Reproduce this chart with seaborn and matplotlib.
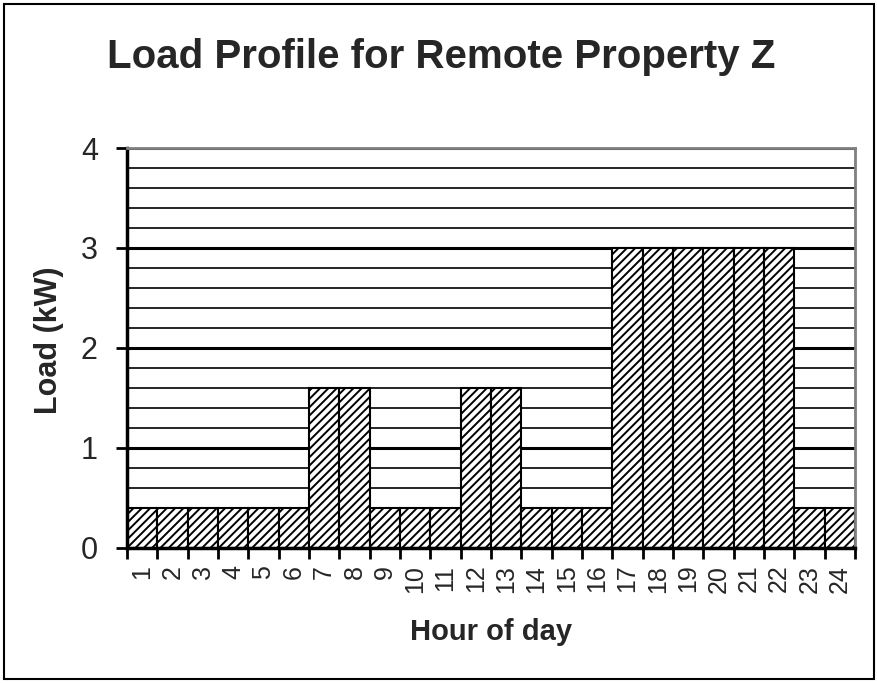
import numpy as np
import pandas as pd
import seaborn as sns
import matplotlib.pyplot as plt
from matplotlib.patches import Rectangle

# Dados do perfil de carga (kW por hora do dia)
horas = [str(h) for h in range(1, 25)]
carga = [0.4, 0.4, 0.4, 0.4, 0.4, 0.4, 1.6, 1.6, 0.4, 0.4, 0.4, 1.6,
         1.6, 0.4, 0.4, 0.4, 3.0, 3.0, 3.0, 3.0, 3.0, 3.0, 0.4, 0.4]

sns.set_theme(style="white")
plt.rcParams["font.family"] = ["Liberation Sans", "DejaVu Sans"]
plt.rcParams["hatch.linewidth"] = 1.4

df = pd.DataFrame({"hora": horas, "carga": carga})

fig = plt.figure(figsize=(8.78, 6.83), dpi=100)
ax = fig.add_axes([0.1446, 0.1977, 0.8292, 0.5856])

sns.barplot(x="hora", y="carga", data=df, ax=ax, order=horas, width=1.0,
            color="white", edgecolor="black", linewidth=1.5, hatch="////",
            errorbar=None, saturation=1)

ax.set_xlim(-0.5, 23.5)
ax.set_ylim(0, 4)

# grade principal e secundaria
ax.set_yticks([0, 1, 2, 3, 4])
ax.set_yticks(np.arange(0, 4.01, 0.2), minor=True)
ax.grid(True, axis="y", which="major", color="black", linewidth=2.2)
ax.grid(True, axis="y", which="minor", color="black", linewidth=1.2)
ax.grid(False, axis="x")
ax.set_axisbelow(True)

# ticks do eixo x nas divisas das barras
ax.set_xticks(np.arange(24))
ax.set_xticklabels(horas, rotation=90, fontsize=18)
ax.set_xticks(np.arange(-0.5, 24, 1), minor=True)
ax.tick_params(axis="x", which="major", length=0, pad=12)
ax.tick_params(axis="x", which="minor", length=8, width=2, color="black",
               direction="out", bottom=True)
ax.tick_params(axis="y", which="major", length=8, width=2, color="black",
               direction="out", left=True, labelsize=22, pad=13)
ax.tick_params(axis="y", which="minor", length=0)

for lado in ["left", "bottom"]:
    ax.spines[lado].set_color("black")
    ax.spines[lado].set_linewidth(2.5)
for lado in ["top", "right"]:
    ax.spines[lado].set_color("#808080")
    ax.spines[lado].set_linewidth(2)

ax.set_xlabel("Hour of day", fontsize=21, fontweight="bold", labelpad=18)
ax.set_ylabel("Load (kW)", fontsize=22, fontweight="bold")
ax.yaxis.set_label_coords(-0.086, 0.52)
fig.text(0.502, 0.916, "Load Profile for Remote Property Z", ha="center",
         va="center", fontsize=29, fontweight="bold")

# moldura da figura
fig.patches.append(Rectangle((0.005, 0.006), 0.99, 0.988, transform=fig.transFigure,
                             fill=False, edgecolor="black", linewidth=1.5))

plt.savefig("out.png", dpi=100)
plt.close()
